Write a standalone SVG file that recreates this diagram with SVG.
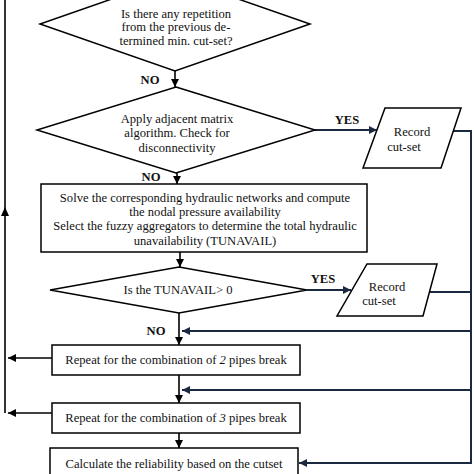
<svg xmlns="http://www.w3.org/2000/svg" width="474" height="474" viewBox="0 0 474 474">
<style>
.shape{fill:#fff;stroke:#000;stroke-width:1.5}
.t{font-family:"Liberation Serif","Times New Roman",serif;font-size:12.6px;fill:#111;text-anchor:middle}
.b{font-family:"Liberation Serif","Times New Roman",serif;font-size:12.6px;font-weight:bold;fill:#111;text-anchor:middle}
.ln{fill:none;stroke:#000;stroke-width:1.6}
.nv{fill:none;stroke:#1b2940;stroke-width:2}
</style>
<defs>
<marker id="ah" viewBox="0 0 10 10" refX="10" refY="5" markerWidth="10" markerHeight="8" markerUnits="userSpaceOnUse" orient="auto">
<path d="M0,0 L10,5 L0,10 Z" fill="#000"/>
</marker>
<marker id="ahn" viewBox="0 0 10 10" refX="10" refY="5" markerWidth="10" markerHeight="8" markerUnits="userSpaceOnUse" orient="auto">
<path d="M0,0 L10,5 L0,10 Z" fill="#1b2940"/>
</marker>
</defs>
<rect width="474" height="474" fill="#fff"/>
<g id="connectors">
<line class="ln" x1="5" y1="413" x2="5" y2="0"/>
<path d="M5,207 L1,216 L9,216 Z" fill="#000"/>
<line class="ln" x1="175" y1="71" x2="175" y2="87" marker-end="url(#ah)"/>
<line class="ln" x1="177" y1="173" x2="177" y2="184" marker-end="url(#ah)"/>
<line class="ln" x1="180" y1="252" x2="180" y2="267" marker-end="url(#ah)"/>
<line class="ln" x1="179" y1="313" x2="179" y2="345" marker-end="url(#ah)"/>
<line class="ln" x1="179" y1="375" x2="179" y2="403" marker-end="url(#ah)"/>
<line class="ln" x1="179" y1="433" x2="179" y2="448" marker-end="url(#ah)"/>
<line class="ln" x1="52" y1="358" x2="8" y2="358" marker-end="url(#ah)"/>
<line class="ln" x1="52" y1="413" x2="8" y2="413" marker-end="url(#ah)"/>
<line class="nv" x1="315" y1="130" x2="377" y2="130" marker-end="url(#ahn)"/>
<line class="nv" x1="307" y1="290" x2="351" y2="290" marker-end="url(#ahn)"/>
<polyline class="nv" points="453,131 471,131 471,463 299,463" marker-end="url(#ahn)"/>
<line class="nv" x1="429" y1="292" x2="471" y2="292"/>
<line class="nv" x1="471" y1="331" x2="182" y2="331" marker-end="url(#ahn)"/>
<line class="nv" x1="471" y1="390" x2="182" y2="390" marker-end="url(#ahn)"/>
<text class="b" x="150" y="84">NO</text>
<text class="b" x="151" y="181">NO</text>
<text class="b" x="156" y="335">NO</text>
<text class="b" x="347" y="124">YES</text>
<text class="b" x="323" y="283">YES</text>
</g>
<g id="n1">
<polygon class="shape" points="175,-23 310,24 175,71 40,24"/>
<text class="t" x="176" y="18">Is there any repetition</text>
<text class="t" x="176" y="31">from the previous de-</text>
<text class="t" x="176" y="45">termined min. cut-set?</text>
</g>
<g id="n2">
<polygon class="shape" points="176,87 315,130 176,173 37,130"/>
<text class="t" x="177" y="123">Apply adjacent matrix</text>
<text class="t" x="177" y="137">algorithm. Check for</text>
<text class="t" x="177" y="152">disconnectivity</text>
</g>
<g id="n3">
<polygon class="shape" points="385,108 461,108 441,168 363,168"/>
<text class="t" x="412" y="136">Record</text>
<text class="t" x="404" y="151">cut-set</text>
</g>
<g id="n4">
<rect class="shape" x="41" y="184" width="326" height="68"/>
<text class="t" x="205" y="202">Solve the corresponding hydraulic networks and compute</text>
<text class="t" x="205" y="216">the nodal pressure availability</text>
<text class="t" x="205" y="230">Select the fuzzy aggregators to determine the total hydraulic</text>
<text class="t" x="205" y="245">unavailability (TUNAVAIL)</text>
</g>
<g id="n5">
<polygon class="shape" points="179,267 307,290 179,313 50,290"/>
<text class="t" x="178" y="294">Is the TUNAVAIL&gt; 0</text>
</g>
<g id="n6">
<polygon class="shape" points="367,264 437,264 423,316 337,316"/>
<text class="t" x="387" y="291">Record</text>
<text class="t" x="379" y="305">cut-set</text>
</g>
<g id="n7">
<rect class="shape" x="52" y="345" width="248" height="30"/>
<text class="t" x="176" y="364">Repeat for the combination of <tspan font-style="italic">2</tspan> pipes break</text>
</g>
<g id="n8">
<rect class="shape" x="52" y="403" width="248" height="30"/>
<text class="t" x="176" y="422">Repeat for the combination of <tspan font-style="italic">3</tspan> pipes break</text>
</g>
<g id="n9">
<rect class="shape" x="50" y="448" width="248" height="34"/>
<text class="t" x="174" y="468">Calculate the reliability based on the cutset</text>
</g>
</svg>
